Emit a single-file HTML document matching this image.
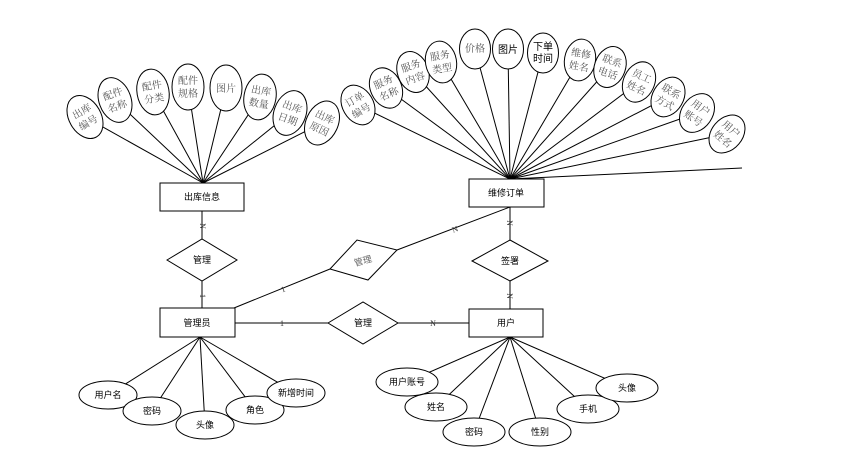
<!DOCTYPE html>
<html><head><meta charset="utf-8"><style>
html,body{margin:0;padding:0;background:#fff;}
svg{display:block;}
.a{font-family:"Liberation Serif","Noto Serif CJK SC",serif;font-size:10px;fill:#555;}
.b{font-family:"Liberation Sans","Noto Sans CJK SC",sans-serif;font-size:9px;fill:#000;}
.c{font-family:"Liberation Sans","Noto Sans CJK SC",sans-serif;font-size:10px;fill:#000;}
.l{font-family:"Liberation Serif",serif;font-size:8px;fill:#333;}
</style></head><body>
<svg width="845" height="451" viewBox="0 0 845 451" xmlns="http://www.w3.org/2000/svg">
<g stroke="#000" stroke-width="1" fill="none">
<line x1="203" y1="183" x2="85" y2="117"/>
<line x1="203" y1="183" x2="115" y2="100"/>
<line x1="203" y1="183" x2="153" y2="92"/>
<line x1="203" y1="183" x2="188" y2="87"/>
<line x1="203" y1="183" x2="226" y2="88"/>
<line x1="203" y1="183" x2="260" y2="97"/>
<line x1="203" y1="183" x2="290" y2="113"/>
<line x1="203" y1="183" x2="322" y2="123"/>
<line x1="510" y1="179" x2="358" y2="105"/>
<line x1="510" y1="179" x2="386" y2="88"/>
<line x1="510" y1="179" x2="413" y2="72"/>
<line x1="510" y1="179" x2="441" y2="62"/>
<line x1="510" y1="179" x2="475" y2="49"/>
<line x1="510" y1="179" x2="508" y2="49"/>
<line x1="510" y1="179" x2="543" y2="53"/>
<line x1="510" y1="179" x2="580" y2="60"/>
<line x1="510" y1="179" x2="610" y2="67"/>
<line x1="510" y1="179" x2="639" y2="82"/>
<line x1="510" y1="179" x2="668" y2="97"/>
<line x1="510" y1="179" x2="697" y2="113"/>
<line x1="510" y1="179" x2="727" y2="134"/>
<line x1="510" y1="179" x2="742" y2="168"/>
<line x1="200" y1="337" x2="108" y2="395"/>
<line x1="200" y1="337" x2="152" y2="411"/>
<line x1="200" y1="337" x2="205" y2="425"/>
<line x1="200" y1="337" x2="255" y2="410"/>
<line x1="200" y1="337" x2="296" y2="393"/>
<line x1="510" y1="337" x2="407" y2="382"/>
<line x1="510" y1="337" x2="436" y2="407"/>
<line x1="510" y1="337" x2="474" y2="432"/>
<line x1="510" y1="337" x2="540" y2="432"/>
<line x1="510" y1="337" x2="588" y2="409"/>
<line x1="510" y1="337" x2="627" y2="388"/>
<line x1="202" y1="211" x2="202" y2="239"/>
<line x1="202" y1="281" x2="202" y2="308"/>
<line x1="510" y1="207" x2="510" y2="240"/>
<line x1="510" y1="281" x2="510" y2="309"/>
<line x1="235" y1="323" x2="328" y2="323"/>
<line x1="398" y1="323" x2="469" y2="323"/>
<line x1="234" y1="308" x2="330" y2="269"/>
<line x1="397" y1="250" x2="510" y2="207"/>
</g>
<g stroke="#000" stroke-width="1" fill="#fff">
<rect x="160" y="183" width="84" height="28"/>
<rect x="469" y="179" width="75" height="28"/>
<rect x="160" y="308" width="75" height="29"/>
<rect x="469" y="309" width="74" height="28"/>
<polygon points="167,260 202,239 237,260 202,281"/>
<polygon points="472,261 510,240 548,261 510,281"/>
<polygon points="328,323 363,302 398,323 363,344"/>
<polygon points="330,269 357,240 397,250 368,280"/>
<ellipse cx="85" cy="117" rx="16" ry="23" transform="rotate(-30 85 117)"/>
<ellipse cx="115" cy="100" rx="16" ry="23" transform="rotate(-20 115 100)"/>
<ellipse cx="153" cy="92" rx="16" ry="23" transform="rotate(-10 153 92)"/>
<ellipse cx="188" cy="87" rx="16" ry="23"/>
<ellipse cx="226" cy="88" rx="16" ry="23"/>
<ellipse cx="260" cy="97" rx="16" ry="23" transform="rotate(10 260 97)"/>
<ellipse cx="290" cy="113" rx="16" ry="23" transform="rotate(20 290 113)"/>
<ellipse cx="322" cy="123" rx="16" ry="23" transform="rotate(25 322 123)"/>
<ellipse cx="358" cy="105" rx="15.5" ry="21" transform="rotate(-30 358 105)"/>
<ellipse cx="386" cy="88" rx="15.5" ry="21" transform="rotate(-25 386 88)"/>
<ellipse cx="413" cy="72" rx="15.5" ry="21" transform="rotate(-20 413 72)"/>
<ellipse cx="441" cy="62" rx="15.5" ry="21" transform="rotate(-10 441 62)"/>
<ellipse cx="475" cy="49" rx="15.5" ry="20"/>
<ellipse cx="508" cy="49" rx="15.5" ry="20"/>
<ellipse cx="543" cy="53" rx="15.5" ry="20"/>
<ellipse cx="580" cy="60" rx="15.5" ry="21" transform="rotate(10 580 60)"/>
<ellipse cx="610" cy="67" rx="15.5" ry="21" transform="rotate(20 610 67)"/>
<ellipse cx="639" cy="82" rx="15.5" ry="21" transform="rotate(25 639 82)"/>
<ellipse cx="668" cy="97" rx="15.5" ry="21" transform="rotate(30 668 97)"/>
<ellipse cx="697" cy="113" rx="15.5" ry="21" transform="rotate(35 697 113)"/>
<ellipse cx="727" cy="134" rx="15.5" ry="21" transform="rotate(40 727 134)"/>
<ellipse cx="108" cy="395" rx="29" ry="14"/>
<ellipse cx="152" cy="411" rx="29" ry="14"/>
<ellipse cx="205" cy="425" rx="29" ry="14"/>
<ellipse cx="255" cy="410" rx="29" ry="14"/>
<ellipse cx="296" cy="393" rx="29" ry="14"/>
<ellipse cx="407" cy="382" rx="31" ry="14"/>
<ellipse cx="436" cy="407" rx="31" ry="14"/>
<ellipse cx="474" cy="432" rx="31" ry="14"/>
<ellipse cx="540" cy="432" rx="31" ry="14"/>
<ellipse cx="588" cy="409" rx="31" ry="14"/>
<ellipse cx="627" cy="388" rx="31" ry="14"/>
</g>
<g class="a" text-anchor="middle">
<g transform="rotate(-30 85 117)"><text x="85" y="114">出库</text><text x="85" y="127">编号</text></g>
<g transform="rotate(-20 115 100)"><text x="115" y="97">配件</text><text x="115" y="110">名称</text></g>
<g transform="rotate(-10 153 92)"><text x="153" y="89">配件</text><text x="153" y="102">分类</text></g>
<text x="188" y="84">配件</text><text x="188" y="97">规格</text>
<text x="226" y="92">图片</text>
<g transform="rotate(10 260 97)"><text x="260" y="94">出库</text><text x="260" y="107">数量</text></g>
<g transform="rotate(20 290 113)"><text x="290" y="110">出库</text><text x="290" y="123">日期</text></g>
<g transform="rotate(25 322 123)"><text x="322" y="120">出库</text><text x="322" y="133">原因</text></g>
<g transform="rotate(-30 358 105)"><text x="358" y="102">订单</text><text x="358" y="115">编号</text></g>
<g transform="rotate(-25 386 88)"><text x="386" y="85">服务</text><text x="386" y="98">名称</text></g>
<g transform="rotate(-20 413 72)"><text x="413" y="69">服务</text><text x="413" y="82">内容</text></g>
<g transform="rotate(-10 441 62)"><text x="441" y="59">服务</text><text x="441" y="72">类型</text></g>
<text x="475" y="52">价格</text>
<text x="508" y="53" class="c">图片</text>
<text x="543" y="50" class="c">下单</text><text x="543" y="62" class="c">时间</text>
<g transform="rotate(10 580 60)"><text x="580" y="57">维修</text><text x="580" y="70">姓名</text></g>
<g transform="rotate(20 610 67)"><text x="610" y="64">联系</text><text x="610" y="77">电话</text></g>
<g transform="rotate(25 639 82)"><text x="639" y="79">员工</text><text x="639" y="92">姓名</text></g>
<g transform="rotate(30 668 97)"><text x="668" y="94">联系</text><text x="668" y="107">方式</text></g>
<g transform="rotate(35 697 113)"><text x="697" y="110">用户</text><text x="697" y="123">账号</text></g>
<g transform="rotate(40 727 134)"><text x="727" y="131">用户</text><text x="727" y="144">姓名</text></g>
</g>
<g class="b" text-anchor="middle">
<text x="202" y="200">出库信息</text>
<text x="506" y="196">维修订单</text>
<text x="197" y="326">管理员</text>
<text x="506" y="326">用户</text>
<text x="202" y="263">管理</text>
<text x="510" y="264">签署</text>
<text x="363" y="326">管理</text>
<text x="363" y="264" transform="rotate(-15 363 261)" style="fill:#666">管理</text>
<text x="108" y="398">用户名</text>
<text x="152" y="414">密码</text>
<text x="205" y="428">头像</text>
<text x="255" y="413">角色</text>
<text x="296" y="396">新增时间</text>
<text x="407" y="385">用户账号</text>
<text x="436" y="410">姓名</text>
<text x="474" y="435">密码</text>
<text x="540" y="435">性别</text>
<text x="588" y="412">手机</text>
<text x="627" y="391">头像</text>
</g>
<g class="l" text-anchor="middle">
<text x="203" y="229" transform="rotate(90 203 226)">N</text>
<text x="203" y="299" transform="rotate(90 203 296)">1</text>
<text x="510" y="226" transform="rotate(90 510 223)">N</text>
<text x="510" y="299" transform="rotate(90 510 296)">N</text>
<text x="282" y="326">1</text>
<text x="433" y="326">N</text>
<text x="283" y="292" transform="rotate(-22 283 289)">1</text>
<text x="455" y="232" transform="rotate(-20 455 229)">N</text>
</g>
</svg>
</body></html>
